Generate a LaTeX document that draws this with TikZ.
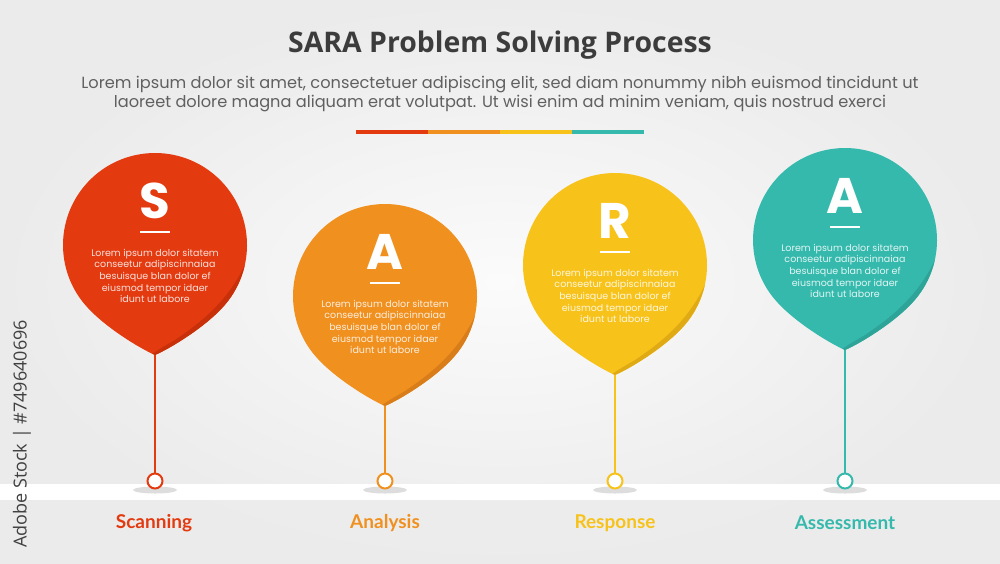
\documentclass[tikz,border=0pt]{standalone}
\usepackage{fontspec}
\setmainfont{Poppins}
\newfontfamily\titlefont{Open Sans}
\newfontfamily\labelfont{Lato}
\definecolor{cred}{HTML}{E33A10}
\definecolor{credd}{HTML}{C73009}
\definecolor{corange}{HTML}{F0901F}
\definecolor{corangedd}{HTML}{D87D1A}
\definecolor{cyellow}{HTML}{F7C31B}
\definecolor{cyellowdd}{HTML}{DFAA14}
\definecolor{cteal}{HTML}{35B9AD}
\definecolor{ctealdd}{HTML}{2EA498}
\definecolor{titlegray}{HTML}{3C3C3C}
\definecolor{subgray}{HTML}{606060}
\definecolor{bginner}{HTML}{FBFBFB}
\definecolor{bgouter}{HTML}{EBEBEB}
\definecolor{bglow}{HTML}{ECECEC}
\definecolor{wmgray}{HTML}{404040}
\newcommand\balloonshape{(0,-110) .. controls (14,-104) and (51.2,-82) .. (70.48,-59.14) arc[start angle=-40, end angle=220, radius=92] .. controls (-51.2,-82) and (-14,-104) .. (0,-110) -- cycle}
\newcommand\balloondark{(96,-5) .. controls (80,-50) and (50,-75) .. (20,-95) .. controls (10,-101) and (0,-106) .. (-12,-116) -- (-12,-140) -- (140,-140) -- (140,-5) -- cycle}
\newcommand\drawballoon[3]{% center, main colour, dark colour
  \begin{scope}[shift={#1}, yscale=-1]
    \fill[#2] \balloonshape;
    \begin{scope}
      \clip \balloonshape;
      \fill[#3] \balloondark;
    \end{scope}
  \end{scope}}
\tikzset{
  titlestyle/.style={text=titlegray, font=\titlefont\bfseries\fontsize{14.2}{16}\selectfont, inner sep=0pt},
  substyle/.style={text=subgray, align=center, font=\fontsize{8.1}{9.6}\selectfont, inner sep=0pt},
  letterstyle/.style={text=white, font=\bfseries\fontsize{25}{26}\selectfont, inner sep=0pt},
  bodystyle/.style={text=white!85!#1, align=center, font=\fontsize{4.75}{5.85}\selectfont, inner sep=0pt},
  lblstyle/.style={text=#1, font=\labelfont\bfseries\fontsize{9.5}{11}\selectfont, inner sep=0pt},
  ringstyle/.style={circle, draw=#1, fill=white, line width=1pt, minimum size=7.5pt, inner sep=0pt},
  stickstyle/.style={draw=#1, line width=1pt},
  shadowstyle/.style={fill=black!22, opacity=0.6},
}
\begin{document}
\begin{tikzpicture}[x=0.5pt,y=-0.5pt]
\useasboundingbox (0,0) rectangle (1000,563);
% background
\shade[inner color=bginner, outer color=bgouter] (0,0) rectangle (1000,563);
\fill[bglow, opacity=0.6] (0,500) rectangle (1000,563);
\fill[white] (0,484) rectangle (1000,500);
% watermark text
\node[rotate=90, text=wmgray, font=\titlefont\fontsize{9}{10}\selectfont, inner sep=0pt] (wm) at (22,434) {Adobe Stock | \#749640696};
% title
\node[titlestyle] (title) at (500,45) {SARA Problem Solving Process};
\node[substyle] (sub) at (500,94) {Lorem ipsum dolor sit amet, consectetuer adipiscing elit, sed diam nonummy nibh euismod tincidunt ut\\laoreet dolore magna aliquam erat volutpat. Ut wisi enim ad minim veniam, quis nostrud exerci};
% colour bar
\fill[cred] (356,130) rectangle (428,134);
\fill[corange] (428,130) rectangle (500,134);
\fill[cyellow] (500,130) rectangle (572,134);
\fill[cteal] (572,130) rectangle (644,134);
% balloons
\drawballoon{(155,245)}{cred}{credd}
\drawballoon{(385,296)}{corange}{corangedd}
\drawballoon{(615,265)}{cyellow}{cyellowdd}
\drawballoon{(845,240)}{cteal}{ctealdd}
% tips
\coordinate (t1) at (155,355);
\coordinate (t2) at (385,406);
\coordinate (t3) at (615,375);
\coordinate (t4) at (845,350);
% shadows
\fill[shadowstyle] (155,490) ellipse [x radius=22, y radius=3.5];
\fill[shadowstyle] (385,490) ellipse [x radius=22, y radius=3.5];
\fill[shadowstyle] (615,490) ellipse [x radius=22, y radius=3.5];
\fill[shadowstyle] (845,490) ellipse [x radius=22, y radius=3.5];
% rings
\node[ringstyle=cred] (r1) at (155,481) {};
\node[ringstyle=corange] (r2) at (385,481) {};
\node[ringstyle=cyellow] (r3) at (615,481) {};
\node[ringstyle=cteal] (r4) at (845,481) {};
\draw[stickstyle=cred] (t1) -- (r1);
\draw[stickstyle=corange] (t2) -- (r2);
\draw[stickstyle=cyellow] (t3) -- (r3);
\draw[stickstyle=cteal] (t4) -- (r4);
% letters
\node[letterstyle] (l1) at (155,201) {S};
\node[letterstyle] (l2) at (385,252) {A};
\node[letterstyle] (l3) at (615,221) {R};
\node[letterstyle] (l4) at (845,196) {A};
\draw[white, line width=1.2pt] (140,232) -- (170,232);
\draw[white, line width=1.2pt] (370,283) -- (400,283);
\draw[white, line width=1.2pt] (600,252) -- (630,252);
\draw[white, line width=1.2pt] (830,227) -- (860,227);
% body texts
\node[bodystyle=cred] (x1) at (155,276) {Lorem ipsum dolor sitatem\\conseetur adipiscinnaiaa\\besuisque blan dolor ef\\eiusmod tempor idaer\\idunt ut labore};
\node[bodystyle=corange] (x2) at (385,327) {Lorem ipsum dolor sitatem\\conseetur adipiscinnaiaa\\besuisque blan dolor ef\\eiusmod tempor idaer\\idunt ut labore};
\node[bodystyle=cyellow] (x3) at (615,296) {Lorem ipsum dolor sitatem\\conseetur adipiscinnaiaa\\besuisque blan dolor ef\\eiusmod tempor idaer\\idunt ut labore};
\node[bodystyle=cteal] (x4) at (845,271) {Lorem ipsum dolor sitatem\\conseetur adipiscinnaiaa\\besuisque blan dolor ef\\eiusmod tempor idaer\\idunt ut labore};
% labels
\node[lblstyle=cred] (n1) at (154,523) {Scanning};
\node[lblstyle=corange] (n2) at (385,523) {Analysis};
\node[lblstyle=cyellow] (n3) at (615,523) {Response};
\node[lblstyle=cteal] (n4) at (845,523) {Assessment};
\end{tikzpicture}
\end{document}
